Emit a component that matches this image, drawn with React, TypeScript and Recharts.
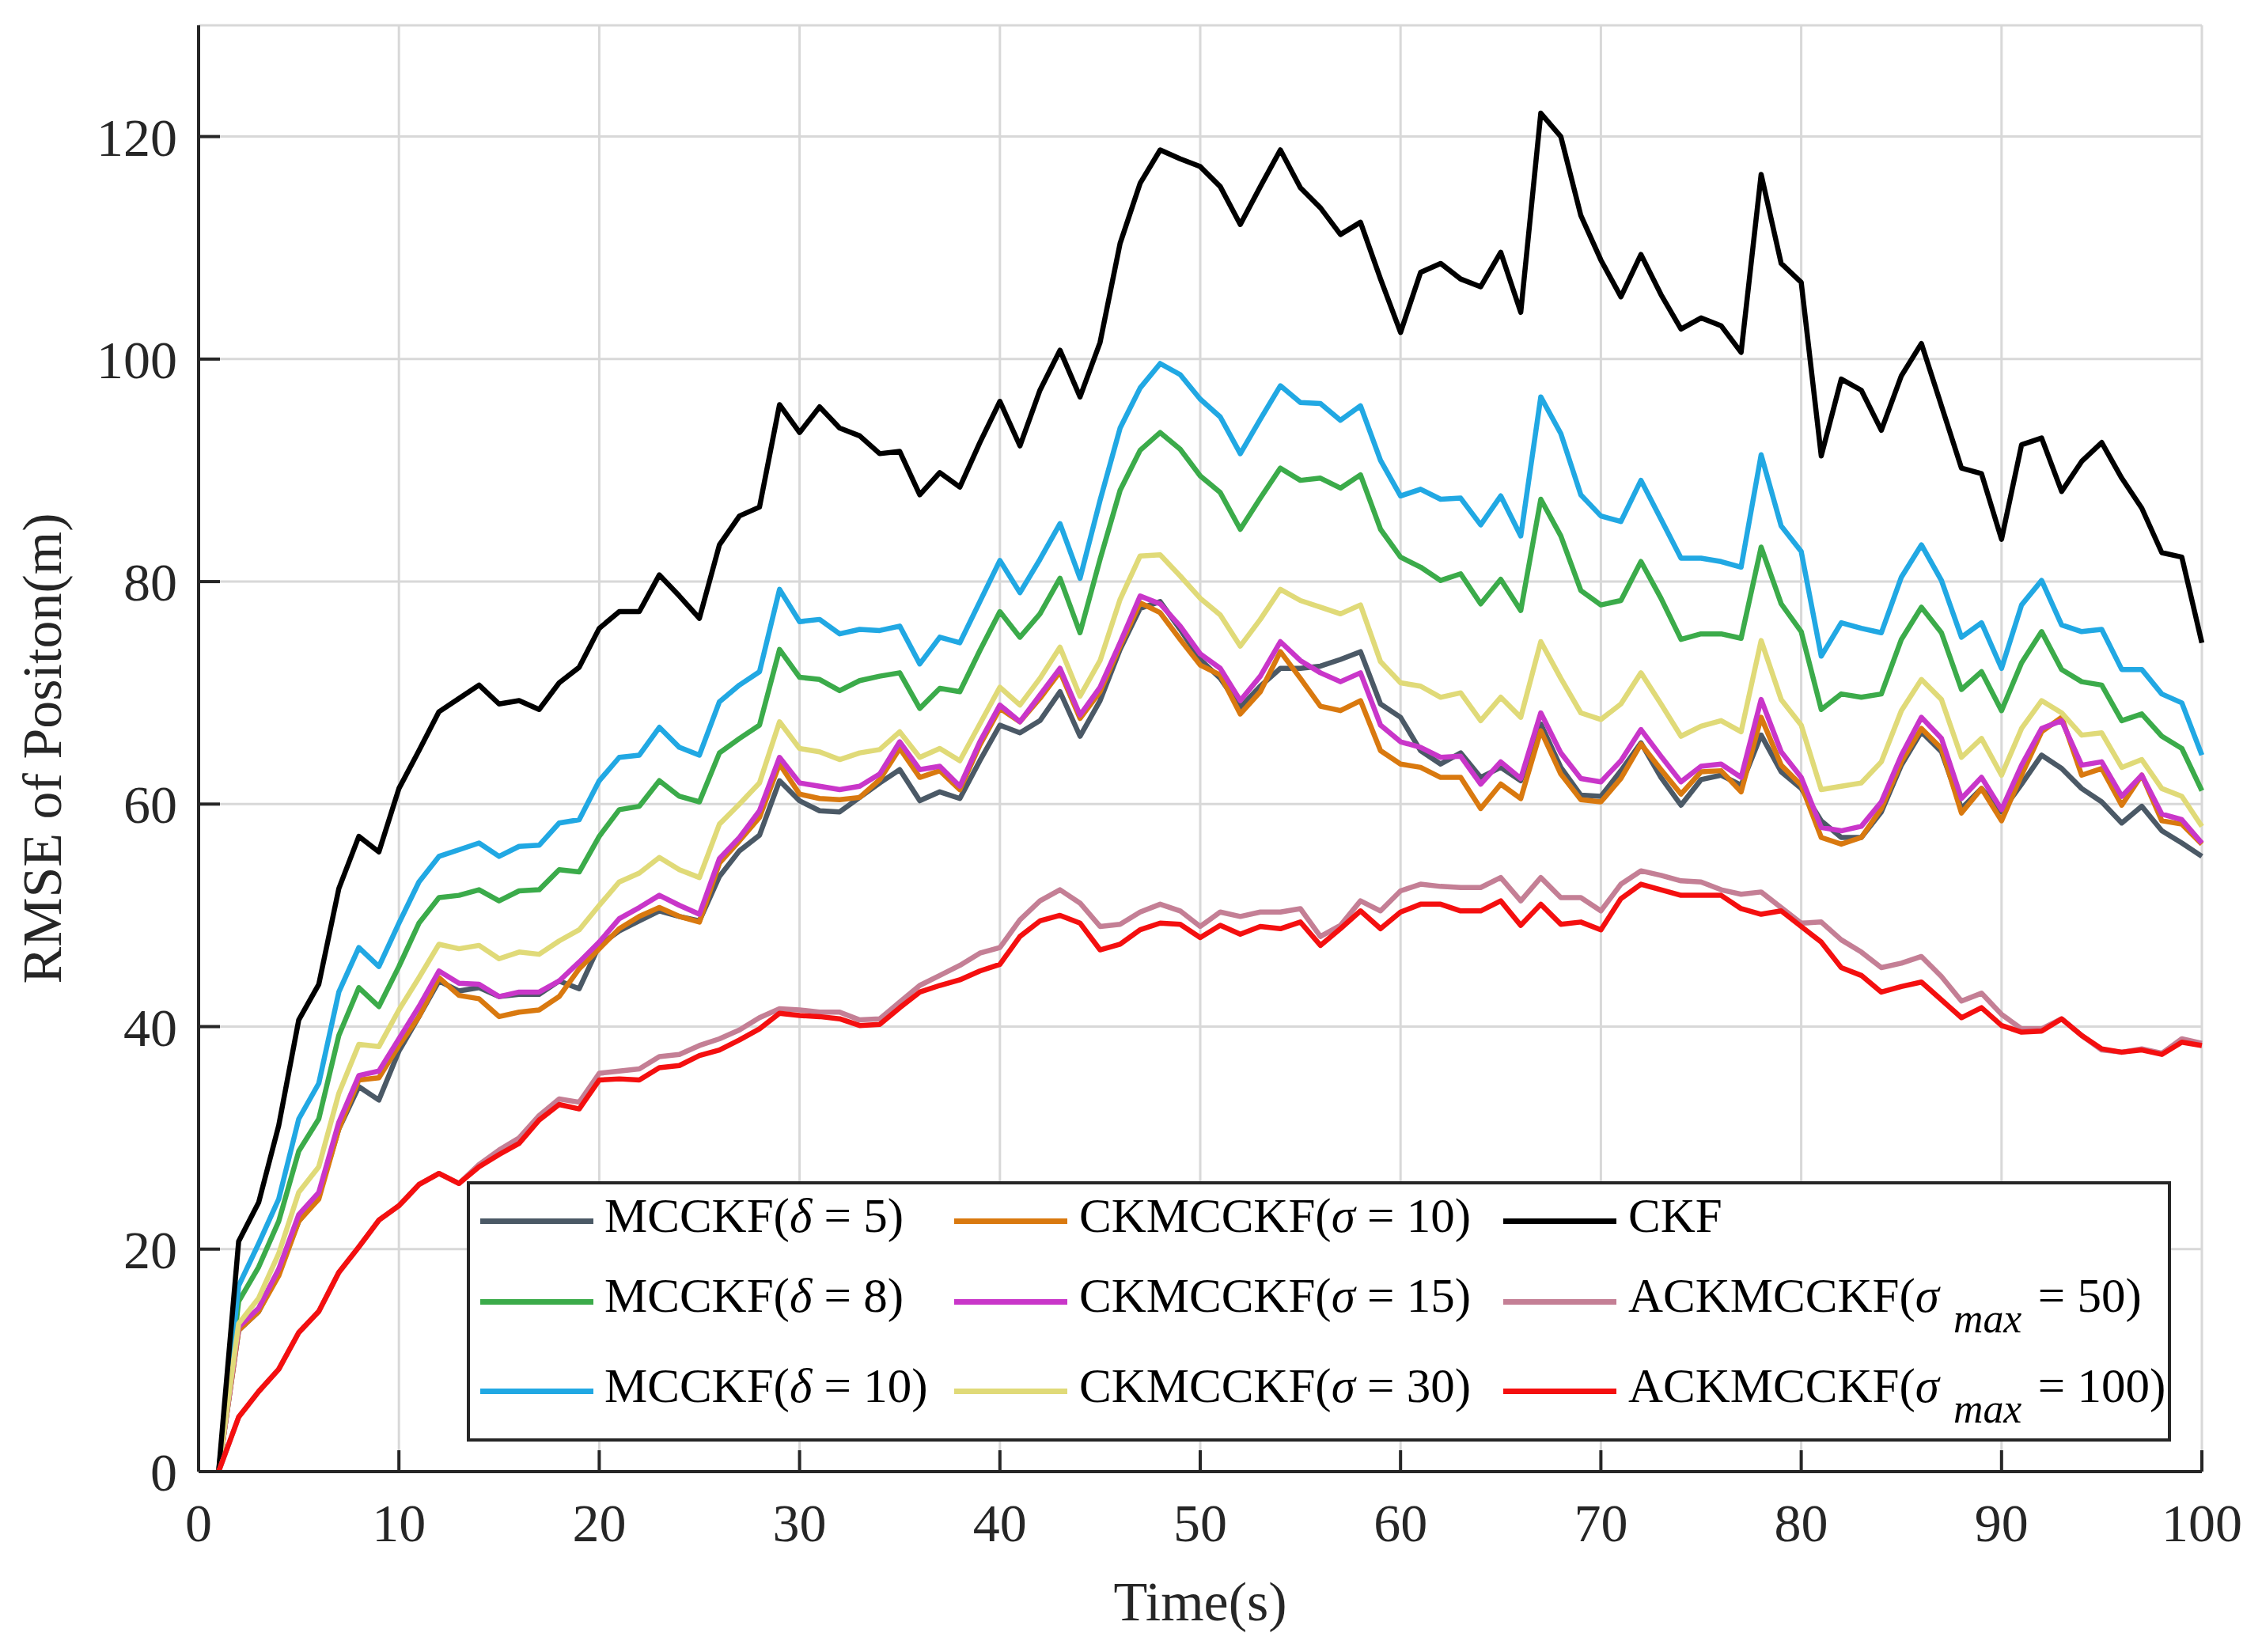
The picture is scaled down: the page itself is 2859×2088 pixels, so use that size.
import React from 'react';
import { LineChart, Line, XAxis, YAxis, CartesianGrid, Legend, Label } from 'recharts';

const FONT = '"Liberation Serif", "Times New Roman", serif';
const AXIS_COLOR = '#262626';
const GRID_COLOR = '#d8d8d8';
const TICK_LEN = 27;
const X_TICK_MARGIN = 40;
const Y_TICK_MARGIN = 27;
const TICK_FONT = 68;

const TIME = [
  1, 2, 3, 4, 5, 6, 7, 8, 9, 10, 11, 12, 13, 14, 15, 16, 17, 18, 19, 20,
  21, 22, 23, 24, 25, 26, 27, 28, 29, 30, 31, 32, 33, 34, 35, 36, 37, 38, 39, 40,
  41, 42, 43, 44, 45, 46, 47, 48, 49, 50, 51, 52, 53, 54, 55, 56, 57, 58, 59, 60,
  61, 62, 63, 64, 65, 66, 67, 68, 69, 70, 71, 72, 73, 74, 75, 76, 77, 78, 79, 80,
  81, 82, 83, 84, 85, 86, 87, 88, 89, 90, 91, 92, 93, 94, 95, 96, 97, 98, 99, 100,
];

const X_TICKS = [0, 10, 20, 30, 40, 50, 60, 70, 80, 90, 100];
const Y_TICKS = [0, 20, 40, 60, 80, 100, 120];

const MCCKF_D5 = [
  0, 12.7, 14.4, 17.9, 22.5, 24.8, 30.8, 34.6, 33.4, 37.8, 40.9, 44.1, 43.2, 43.5, 42.7, 42.9, 42.9, 44.1, 43.4, 47.3, 48.6, 49.5, 50.4, 49.9, 49.5,
  53.5, 55.8, 57.2, 62.1, 60.3, 59.4, 59.3, 60.6, 61.9, 63.1, 60.3, 61.1, 60.5, 63.9, 67.1, 66.4, 67.5, 70.1, 66.1, 69.3, 73.9, 77.6, 78.2, 75.7, 73.0,
  71.3, 68.7, 70.6, 72.2, 72.2, 72.4, 73.0, 73.7, 69.0, 67.8, 64.8, 63.6, 64.6, 62.4, 63.3, 62.1, 67.2, 63.3, 60.8, 60.7, 63.0, 65.5, 62.4, 59.9, 62.2,
  62.6, 61.7, 66.2, 62.9, 61.4, 58.5, 57.0, 57.0, 59.3, 63.5, 66.5, 64.7, 59.6, 61.4, 59.3, 61.8, 64.4, 63.2, 61.4, 60.2, 58.3, 59.8, 57.6, 56.5, 55.3,
];

const MCCKF_D8 = [
  0, 15.3, 18.4, 22.5, 28.8, 31.7, 39.2, 43.5, 41.8, 45.4, 49.3, 51.6, 51.8, 52.3, 51.3, 52.2, 52.3, 54.1, 53.9, 57.1, 59.5, 59.8, 62.1, 60.7, 60.2,
  64.6, 65.9, 67.1, 73.9, 71.4, 71.2, 70.2, 71.1, 71.5, 71.8, 68.6, 70.4, 70.1, 73.8, 77.3, 75.0, 77.1, 80.3, 75.4, 82.0, 88.2, 91.8, 93.4, 91.9, 89.5,
  88.0, 84.7, 87.5, 90.2, 89.1, 89.3, 88.4, 89.6, 84.7, 82.2, 81.3, 80.1, 80.7, 78.0, 80.2, 77.4, 87.4, 84.1, 79.2, 77.9, 78.3, 81.8, 78.5, 74.8, 75.3,
  75.3, 74.9, 83.1, 78.0, 75.5, 68.5, 69.9, 69.6, 69.9, 74.8, 77.7, 75.4, 70.3, 71.9, 68.4, 72.7, 75.5, 72.1, 71.0, 70.7, 67.5, 68.1, 66.1, 65.0, 61.2,
];

const MCCKF_D10 = [
  0, 16.7, 20.5, 24.5, 31.7, 34.9, 43.1, 47.1, 45.4, 49.3, 53.0, 55.3, 55.9, 56.5, 55.3, 56.2, 56.3, 58.3, 58.6, 62.1, 64.2, 64.4, 66.9, 65.1, 64.4,
  69.2, 70.7, 71.9, 79.3, 76.4, 76.6, 75.3, 75.7, 75.6, 76.0, 72.6, 75.0, 74.5, 78.2, 81.9, 79.0, 82.0, 85.2, 80.3, 87.3, 93.8, 97.4, 99.6, 98.6, 96.4,
  94.8, 91.5, 94.6, 97.6, 96.1, 96.0, 94.5, 95.8, 90.9, 87.7, 88.3, 87.4, 87.5, 85.1, 87.7, 84.1, 96.6, 93.3, 87.8, 85.9, 85.4, 89.1, 85.6, 82.1, 82.1,
  81.8, 81.3, 91.4, 85.0, 82.7, 73.3, 76.3, 75.8, 75.4, 80.4, 83.3, 80.1, 75.0, 76.3, 72.2, 77.9, 80.1, 76.1, 75.5, 75.7, 72.1, 72.1, 69.9, 69.1, 64.4,
];

const CKMCCKF_S10 = [
  0, 12.7, 14.4, 17.6, 22.5, 24.5, 30.8, 35.2, 35.4, 38.3, 40.9, 44.4, 42.8, 42.5, 40.9, 41.3, 41.5, 42.7, 45.2, 47.0, 48.8, 49.9, 50.7, 49.9, 49.4,
  54.7, 56.7, 58.8, 63.6, 60.9, 60.5, 60.4, 60.6, 62.2, 65.0, 62.4, 63.0, 61.3, 65.3, 68.6, 67.4, 69.5, 71.9, 67.7, 70.1, 74.2, 78.1, 77.2, 74.8, 72.5,
  71.6, 68.1, 70.1, 73.7, 71.3, 68.8, 68.4, 69.3, 64.8, 63.6, 63.3, 62.4, 62.4, 59.6, 61.8, 60.5, 66.6, 62.7, 60.4, 60.2, 62.3, 65.4, 63.1, 60.9, 62.9,
  63.0, 61.1, 67.8, 63.5, 61.7, 57.0, 56.4, 57.0, 59.6, 63.8, 66.8, 65.0, 59.2, 61.4, 58.5, 62.6, 66.5, 67.8, 62.6, 63.2, 59.9, 62.6, 58.5, 58.2, 56.4,
];

const CKMCCKF_S15 = [
  0, 13.0, 14.7, 18.2, 23.1, 25.1, 31.4, 35.6, 36.0, 38.9, 41.8, 45.0, 43.9, 43.8, 42.7, 43.1, 43.1, 44.1, 45.8, 47.6, 49.7, 50.7, 51.8, 50.9, 50.1,
  55.1, 57.0, 59.4, 64.2, 61.9, 61.6, 61.3, 61.6, 62.7, 65.6, 63.1, 63.4, 61.6, 65.6, 68.9, 67.4, 69.8, 72.2, 68.0, 70.5, 74.5, 78.7, 78.0, 76.0, 73.5,
  72.2, 69.3, 71.5, 74.6, 72.9, 71.8, 71.0, 71.8, 67.1, 65.6, 65.1, 64.2, 64.3, 61.8, 63.8, 62.3, 68.2, 64.6, 62.3, 62.0, 63.9, 66.7, 64.3, 62.0, 63.4,
  63.6, 62.4, 69.4, 64.7, 62.4, 57.9, 57.6, 58.0, 60.2, 64.4, 67.8, 65.9, 60.5, 62.4, 59.5, 63.5, 66.8, 67.5, 63.5, 63.8, 60.7, 62.6, 59.1, 58.6, 56.5,
];

const CKMCCKF_S30 = [
  0, 13.3, 15.6, 19.6, 25.1, 27.4, 34.0, 38.4, 38.2, 41.5, 44.4, 47.4, 47.0, 47.3, 46.1, 46.7, 46.5, 47.7, 48.7, 50.9, 53.0, 53.8, 55.2, 54.1, 53.4,
  58.2, 60.0, 61.9, 67.4, 65.0, 64.7, 64.0, 64.6, 64.9, 66.5, 64.2, 65.0, 63.9, 67.2, 70.5, 68.9, 71.3, 74.1, 69.7, 72.9, 78.4, 82.3, 82.4, 80.5, 78.5,
  77.0, 74.2, 76.6, 79.3, 78.3, 77.7, 77.1, 77.9, 72.8, 70.9, 70.6, 69.6, 70.0, 67.5, 69.6, 67.8, 74.6, 71.3, 68.2, 67.6, 69.0, 71.8, 69.0, 66.1, 67.0,
  67.5, 66.5, 74.7, 69.4, 67.1, 61.3, 61.6, 61.9, 63.8, 68.4, 71.2, 69.4, 64.2, 65.9, 62.6, 66.8, 69.3, 68.2, 66.2, 66.4, 63.3, 64.0, 61.4, 60.7, 58.0,
];

const CKF = [
  0, 20.7, 24.2, 31.1, 40.6, 43.8, 52.4, 57.1, 55.7, 61.4, 64.8, 68.3, 69.5, 70.7, 69.0, 69.3, 68.5, 70.9, 72.3, 75.8, 77.3, 77.3, 80.6, 78.7, 76.7,
  83.3, 85.9, 86.7, 95.9, 93.4, 95.7, 93.8, 93.1, 91.5, 91.7, 87.8, 89.8, 88.5, 92.5, 96.2, 92.2, 97.2, 100.8, 96.6, 101.5, 110.4, 115.8, 118.8, 118.0, 117.3,
  115.5, 112.1, 115.5, 118.8, 115.4, 113.6, 111.2, 112.3, 107.2, 102.4, 107.8, 108.6, 107.2, 106.5, 109.6, 104.2, 122.1, 120.0, 112.9, 108.9, 105.6, 109.4, 105.8, 102.7, 103.7,
  103.0, 100.6, 116.6, 108.6, 106.9, 91.3, 98.2, 97.2, 93.6, 98.5, 101.4, 95.8, 90.2, 89.7, 83.8, 92.3, 92.9, 88.1, 90.8, 92.5, 89.3, 86.6, 82.6, 82.2, 74.5,
];

const ACKMCCKF_M50 = [
  0, 4.9, 7.2, 9.2, 12.5, 14.4, 17.9, 20.2, 22.6, 23.9, 25.8, 26.8, 25.9, 27.6, 28.9, 30.0, 32.0, 33.5, 33.2, 35.8, 36.0, 36.2, 37.3, 37.5, 38.3,
  38.9, 39.7, 40.8, 41.6, 41.5, 41.3, 41.3, 40.6, 40.7, 42.2, 43.7, 44.6, 45.5, 46.6, 47.1, 49.6, 51.3, 52.3, 51.1, 49.0, 49.2, 50.3, 51.0, 50.4, 49.0,
  50.3, 49.9, 50.3, 50.3, 50.6, 48.1, 49.1, 51.3, 50.4, 52.2, 52.8, 52.6, 52.5, 52.5, 53.4, 51.3, 53.4, 51.6, 51.6, 50.4, 52.8, 54.0, 53.6, 53.1, 53.0,
  52.3, 51.9, 52.1, 50.7, 49.3, 49.4, 47.8, 46.7, 45.3, 45.7, 46.3, 44.5, 42.3, 43.0, 41.1, 39.8, 39.8, 40.7, 39.2, 37.9, 37.7, 38.0, 37.6, 38.9, 38.5,
];

const ACKMCCKF_M100 = [
  0, 4.9, 7.2, 9.2, 12.5, 14.4, 17.9, 20.2, 22.6, 23.9, 25.8, 26.8, 25.9, 27.4, 28.5, 29.5, 31.6, 33.0, 32.6, 35.2, 35.3, 35.2, 36.3, 36.5, 37.4,
  37.9, 38.8, 39.8, 41.2, 41.0, 40.9, 40.7, 40.1, 40.2, 41.7, 43.1, 43.7, 44.2, 45.0, 45.6, 48.1, 49.5, 50.0, 49.3, 46.9, 47.4, 48.7, 49.3, 49.2, 48.0,
  49.1, 48.3, 49.0, 48.8, 49.4, 47.3, 48.8, 50.4, 48.8, 50.3, 51.0, 51.0, 50.4, 50.4, 51.3, 49.1, 51.0, 49.2, 49.4, 48.7, 51.5, 52.8, 52.3, 51.8, 51.8,
  51.8, 50.6, 50.1, 50.4, 49.0, 47.6, 45.3, 44.6, 43.1, 43.6, 44.0, 42.4, 40.8, 41.7, 40.1, 39.5, 39.6, 40.7, 39.2, 38.0, 37.7, 37.9, 37.5, 38.6, 38.3,
];

type SeriesCfg = {
  key: string;
  color: string;
  values: number[];
  prefix: string;
  sym?: string;
  sub?: string;
  val?: string;
};

const SERIES: SeriesCfg[] = [
  { key: 'mcckf5', color: '#4b5966', values: MCCKF_D5, prefix: 'MCCKF(', sym: 'δ', val: '5' },
  { key: 'mcckf8', color: '#3bab4a', values: MCCKF_D8, prefix: 'MCCKF(', sym: 'δ', val: '8' },
  { key: 'mcckf10', color: '#21a8e3', values: MCCKF_D10, prefix: 'MCCKF(', sym: 'δ', val: '10' },
  { key: 'ckm10', color: '#d9790f', values: CKMCCKF_S10, prefix: 'CKMCCKF(', sym: 'σ', val: '10' },
  { key: 'ckm15', color: '#c936c9', values: CKMCCKF_S15, prefix: 'CKMCCKF(', sym: 'σ', val: '15' },
  { key: 'ckm30', color: '#e0da78', values: CKMCCKF_S30, prefix: 'CKMCCKF(', sym: 'σ', val: '30' },
  { key: 'ckf', color: '#000000', values: CKF, prefix: 'CKF' },
  { key: 'ack50', color: '#c47f95', values: ACKMCCKF_M50, prefix: 'ACKMCCKF(', sym: 'σ', sub: 'max', val: '50' },
  { key: 'ack100', color: '#f40f0f', values: ACKMCCKF_M100, prefix: 'ACKMCCKF(', sym: 'σ', sub: 'max', val: '100' },
];

const data = TIME.map((t, i) => {
  const row: Record<string, number> = { t };
  SERIES.forEach((s) => {
    row[s.key] = s.values[i];
  });
  return row;
});

// Legend layout (relative to the legend box interior)
const LEGEND_BOX = { left: 590, top: 1493, width: 2154, height: 329 };
const LEGEND_COL_SWATCH = [13, 612, 1306];
const LEGEND_COL_TEXT = [170, 770, 1464];
const LEGEND_ROW_SWATCH = [46, 148, 261];
const LEGEND_ROW_TEXT = [9, 110, 224];
const LEGEND_FONT = 61;

function LegendLabel({ s }: { s: SeriesCfg }) {
  if (!s.sym) return <span>{s.prefix}</span>;
  return (
    <span>
      {s.prefix}
      <i>{s.sym}</i>
      {s.sub ? (
        <i style={{ fontSize: '0.85em', position: 'relative', top: '0.5em', marginLeft: '0.35em', marginRight: '0.1em' }}>
          {s.sub}
        </i>
      ) : null}
      {' = '}
      {s.val})
    </span>
  );
}

function LegendContent(props: any) {
  const payload: any[] = props.payload || [];
  return (
    <div
      style={{
        width: '100%',
        height: '100%',
        boxSizing: 'border-box',
        border: `4px solid ${AXIS_COLOR}`,
        background: '#fff',
        position: 'relative',
        fontFamily: FONT,
      }}
    >
      {payload.map((entry) => {
        const idx = SERIES.findIndex((s) => s.key === entry.dataKey);
        if (idx < 0) return null;
        const s = SERIES[idx];
        const col = Math.floor(idx / 3);
        const row = idx % 3;
        return (
          <React.Fragment key={s.key}>
            <div
              style={{
                position: 'absolute',
                left: LEGEND_COL_SWATCH[col],
                top: LEGEND_ROW_SWATCH[row] - 3,
                width: 143,
                height: 6.5,
                background: entry.color,
              }}
            />
            <div
              style={{
                position: 'absolute',
                left: LEGEND_COL_TEXT[col],
                top: LEGEND_ROW_TEXT[row],
                fontSize: LEGEND_FONT,
                lineHeight: `${LEGEND_FONT}px`,
                whiteSpace: 'nowrap',
                color: '#000',
              }}
            >
              <LegendLabel s={s} />
            </div>
          </React.Fragment>
        );
      })}
    </div>
  );
}

function BottomTick(props: any) {
  const { x, y, payload } = props;
  const axisY = y - X_TICK_MARGIN;
  return (
    <g>
      <line x1={x} x2={x} y1={axisY} y2={axisY - TICK_LEN} stroke={AXIS_COLOR} strokeWidth={4} />
      <text x={x} y={y} dy="0.71em" textAnchor="middle" fontSize={TICK_FONT} fontFamily={FONT} fill={AXIS_COLOR}>
        {payload.value}
      </text>
    </g>
  );
}

function TopTick(props: any) {
  const { x, y } = props;
  return <line x1={x} x2={x} y1={y} y2={y + TICK_LEN} stroke={AXIS_COLOR} strokeWidth={4} />;
}

function LeftTick(props: any) {
  const { x, y, payload } = props;
  const axisX = x + Y_TICK_MARGIN;
  return (
    <g>
      <line x1={axisX} x2={axisX + TICK_LEN} y1={y} y2={y} stroke={AXIS_COLOR} strokeWidth={4} />
      <text x={x} y={y} dy="0.355em" textAnchor="end" fontSize={TICK_FONT} fontFamily={FONT} fill={AXIS_COLOR}>
        {payload.value}
      </text>
    </g>
  );
}

function RightTick(props: any) {
  const { x, y } = props;
  return <line x1={x - TICK_LEN} x2={x} y1={y} y2={y} stroke={AXIS_COLOR} strokeWidth={4} />;
}

function XTitle(props: any) {
  const vb = props.viewBox || { x: 251, y: 1860, width: 2532, height: 200 };
  return (
    <text x={vb.x + vb.width / 2} y={vb.y + 188} textAnchor="middle" fontSize={70} fontFamily={FONT} fill={AXIS_COLOR}>
      Time(s)
    </text>
  );
}

function YTitle(props: any) {
  const vb = props.viewBox || { x: 0, y: 32, width: 251, height: 1828 };
  const cx = vb.x + 77;
  const cy = vb.y + vb.height / 2;
  return (
    <text
      x={cx}
      y={cy}
      transform={`rotate(-90 ${cx} ${cy})`}
      textAnchor="middle"
      fontSize={70}
      fontFamily={FONT}
      fill={AXIS_COLOR}
    >
      RMSE of Positon(m)
    </text>
  );
}

export default function App() {
  const axisLine = { stroke: AXIS_COLOR, strokeWidth: 4 };
  return (
    <div style={{ position: 'absolute', left: 0, top: 0, width: 2859, height: 2088, background: '#fff' }}>
      <LineChart width={2859} height={2088} data={data} margin={{ top: 32, right: 76, bottom: 28, left: 0 }}>
        <CartesianGrid stroke={GRID_COLOR} strokeWidth={3} xAxisId="main" yAxisId="main" />
        <XAxis
          xAxisId="main"
          dataKey="t"
          type="number"
          domain={[0, 100]}
          ticks={X_TICKS}
          height={200}
          tickSize={0}
          tickMargin={X_TICK_MARGIN}
          tickLine={false}
          axisLine={axisLine}
          tick={<BottomTick />}
          interval={0}
        >
          <Label content={<XTitle />} />
        </XAxis>
        <XAxis
          xAxisId="top"
          orientation="top"
          dataKey="t"
          type="number"
          domain={[0, 100]}
          ticks={X_TICKS}
          height={0}
          tickSize={0}
          tickMargin={0}
          tickLine={false}
          axisLine={axisLine}
          tick={<TopTick />}
          interval={0}
        />
        <YAxis
          yAxisId="main"
          type="number"
          domain={[0, 130]}
          ticks={Y_TICKS}
          width={251}
          tickSize={0}
          tickMargin={Y_TICK_MARGIN}
          tickLine={false}
          axisLine={axisLine}
          tick={<LeftTick />}
          interval={0}
        >
          <Label content={<YTitle />} />
        </YAxis>
        <YAxis
          yAxisId="right"
          orientation="right"
          type="number"
          domain={[0, 130]}
          ticks={Y_TICKS}
          width={0}
          tickSize={0}
          tickMargin={0}
          tickLine={false}
          axisLine={axisLine}
          tick={<RightTick />}
          interval={0}
        />
        {SERIES.map((s) => (
          <Line
            key={s.key}
            xAxisId="main"
            yAxisId="main"
            type="linear"
            dataKey={s.key}
            name={s.prefix}
            stroke={s.color}
            strokeWidth={6.5}
            strokeLinejoin="round"
            dot={false}
            activeDot={false}
            isAnimationActive={false}
          />
        ))}
        <Legend
          layout="horizontal"
          verticalAlign="middle"
          align="center"
          content={<LegendContent />}
          wrapperStyle={{
            position: 'absolute',
            left: LEGEND_BOX.left,
            top: LEGEND_BOX.top,
            width: LEGEND_BOX.width,
            height: LEGEND_BOX.height,
            margin: 0,
            padding: 0,
          }}
        />
      </LineChart>
    </div>
  );
}
